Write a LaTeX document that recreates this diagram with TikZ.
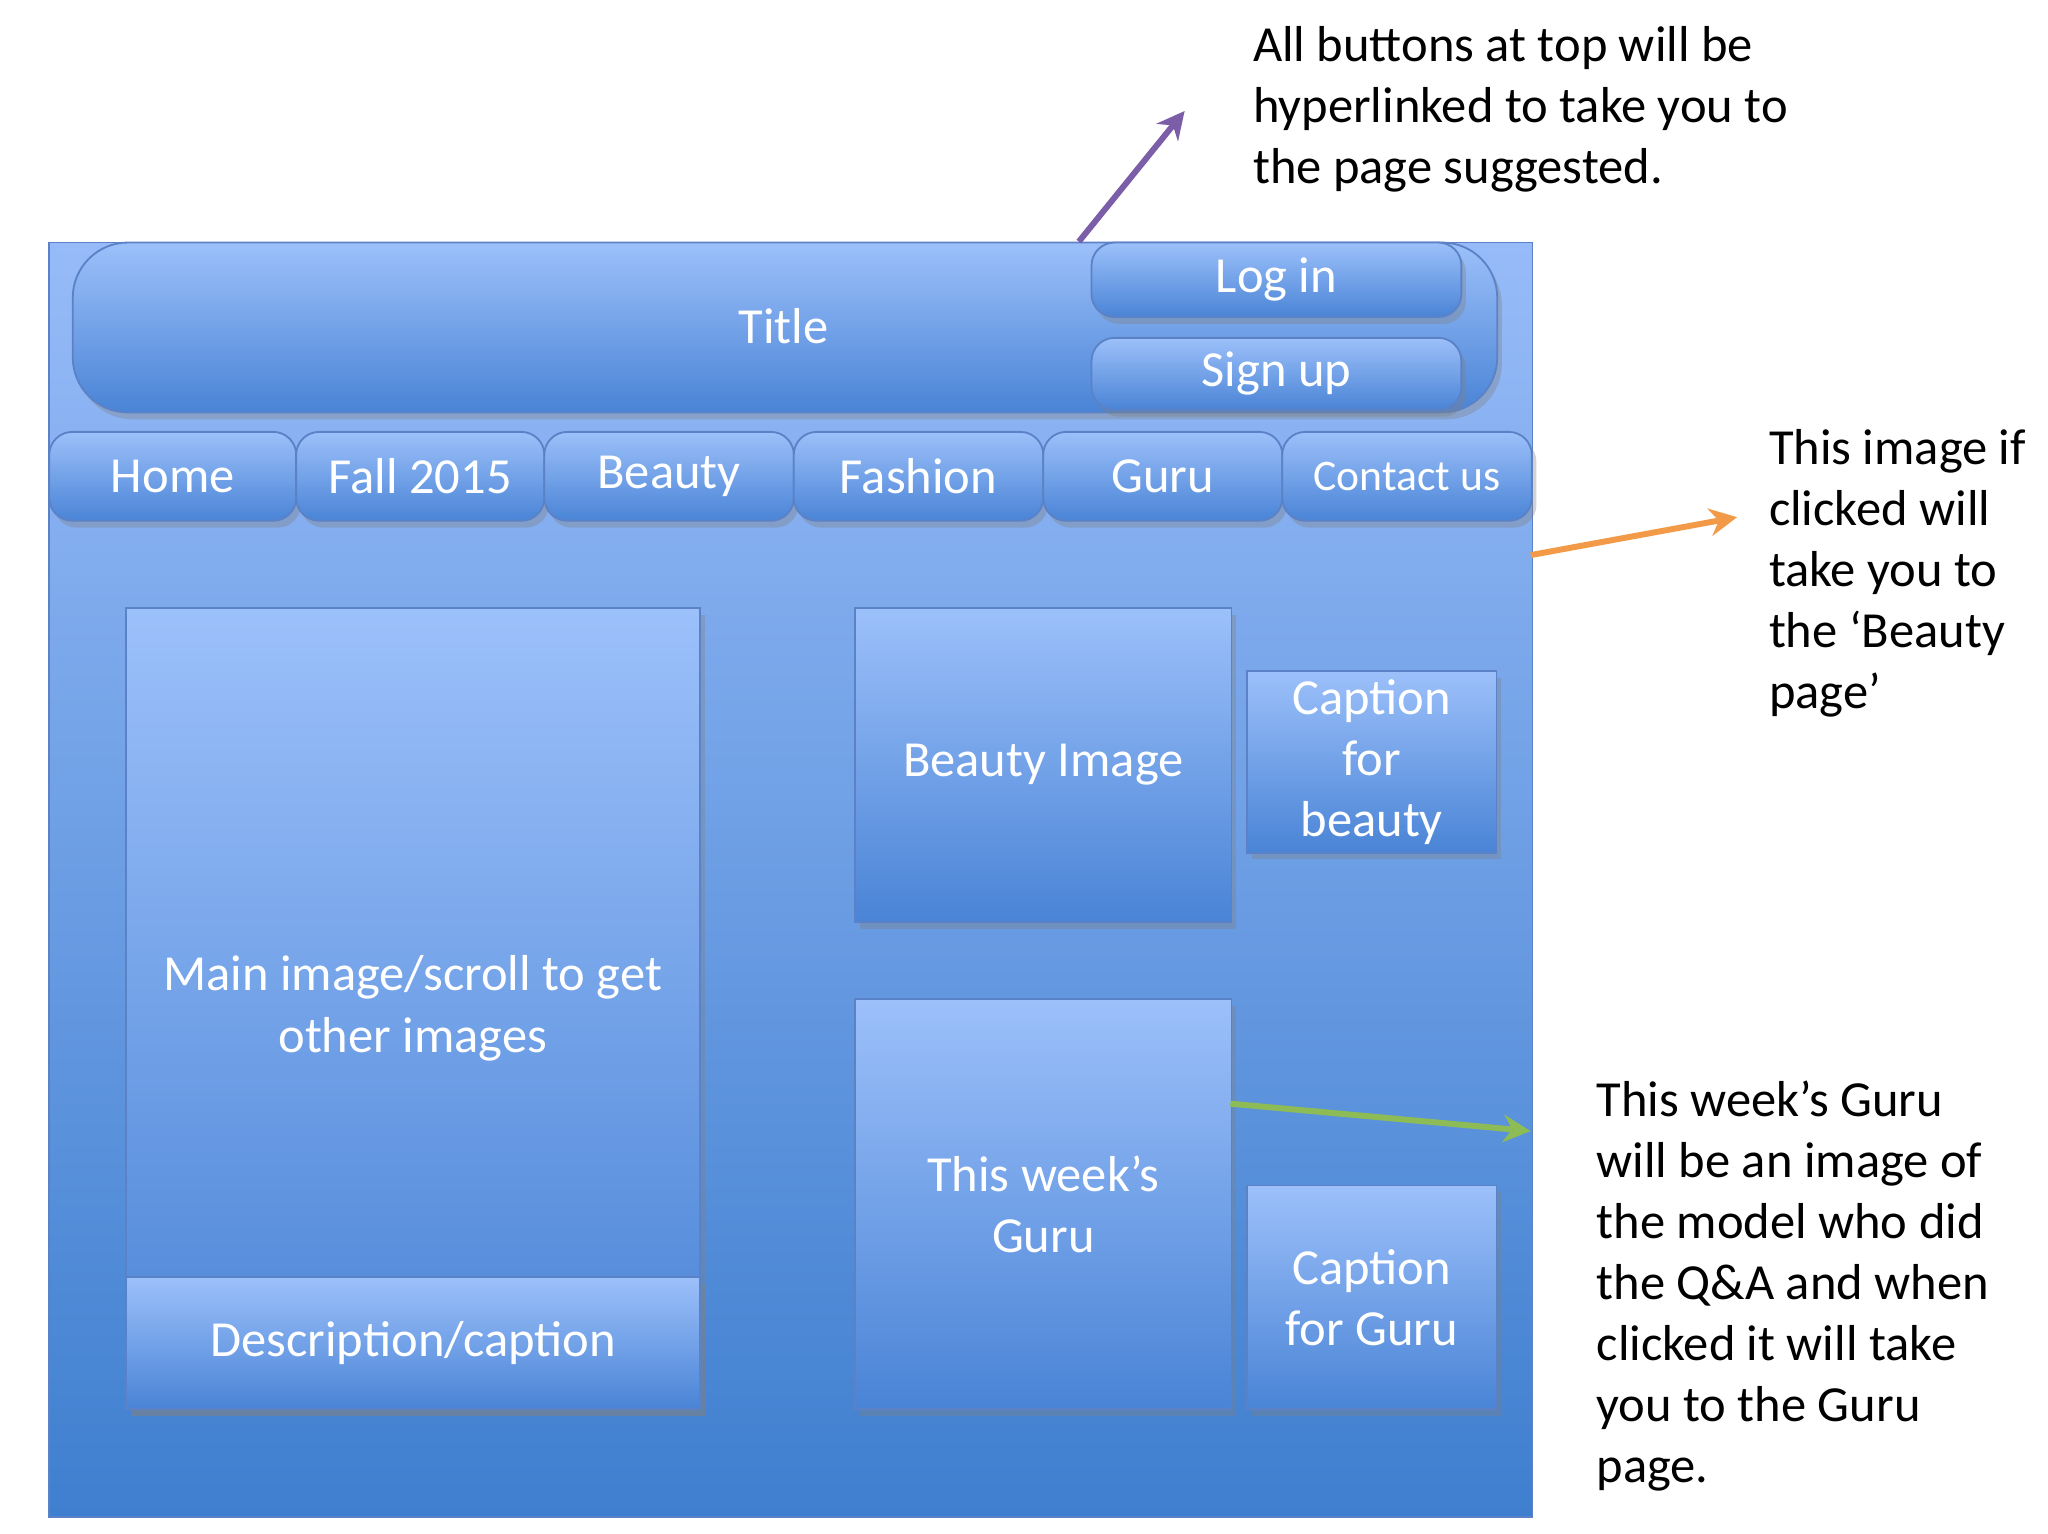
\documentclass[tikz,border=0pt]{standalone}
\usepackage{fontspec}
\setmainfont{Carlito}
\usetikzlibrary{arrows.meta, positioning, shadows}
\definecolor{paneltop}{HTML}{97BBF8}
\definecolor{panelbot}{HTML}{3F7FCF}
\definecolor{boxtop}{HTML}{9CC0FA}
\definecolor{boxbot}{HTML}{4A84D6}
\definecolor{boxline}{HTML}{5B82C6}
\definecolor{arrpurple}{HTML}{7B5EA7}
\definecolor{arrorange}{HTML}{F29A48}
\definecolor{arrgreen}{HTML}{8DBB55}
\begin{document}
\begin{tikzpicture}[x=0.01cm, y=-0.01cm,
    panel/.style={draw=boxline, top color=paneltop, bottom color=panelbot, anchor=north west, inner sep=0pt},
    box/.style={draw=boxline, top color=boxtop, bottom color=boxbot, anchor=north west,
                inner sep=0pt, align=center, text=white, drop shadow={opacity=0.35, shadow xshift=1pt, shadow yshift=-1.5pt},
                font=\fontsize{11}{13.3}\selectfont},
    note/.style={anchor=north west, align=left, font=\fontsize{11}{13.3}\selectfont},
    arrow/.style={-{Stealth[length=6pt, width=6pt]}, line width=1.3pt}
]
\useasboundingbox (0,0) rectangle (1568,1174);
\node[panel, minimum width=11.35cm, minimum height=9.75cm] (page) at (37,185) {};
\node[box, rounded corners=12pt, minimum width=10.9cm, minimum height=1.3cm] (title) at (55,185) {};
\node[text=white, font=\fontsize{11}{13.3}\selectfont] at (600,250) {Title};
\node[box, rounded corners=5pt, minimum width=2.83cm, minimum height=0.57cm] (login) at (835,185) {Log in};
\node[box, rounded corners=5pt, minimum width=2.83cm, minimum height=0.55cm] (signup) at (835,258) {Sign up};

% tabs
\node[box, rounded corners=5pt, minimum width=1.89cm, minimum height=0.68cm] (home) at (37,330) {Home};
\node[box, rounded corners=5pt, minimum width=1.90cm, minimum height=0.68cm] (fall) at (226,330) {Fall 2015};
\node[box, rounded corners=5pt, minimum width=1.91cm, minimum height=0.68cm] (beauty) at (416,330) {Beauty};
\node[box, rounded corners=5pt, minimum width=1.91cm, minimum height=0.68cm] (fashion) at (607,330) {Fashion};
\node[box, rounded corners=5pt, minimum width=1.83cm, minimum height=0.68cm] (guru) at (798,330) {Guru};
\node[box, rounded corners=5pt, minimum width=1.91cm, minimum height=0.68cm, font=\fontsize{9.5}{11}\selectfont] (contact) at (981,330) {Contact us};

% content boxes
\node[box, minimum width=4.39cm, minimum height=6.13cm] (mainimg) at (96,465) {};
\node[white, align=center, font=\fontsize{11}{13.3}\selectfont] at (316,772) {Main image/scroll to get\\other images};
\node[box, minimum width=4.39cm, minimum height=1.01cm] (desc) at (96,977) {Description/caption};
\node[box, minimum width=2.88cm, minimum height=2.40cm] (beautyimg) at (654,465) {Beauty Image};
\node[box, minimum width=1.91cm, minimum height=1.39cm] (capbeauty) at (954,513) {Caption\\for\\beauty};
\node[box, minimum width=2.88cm, minimum height=3.14cm] (weekguru) at (654,764) {This week’s\\Guru};
\node[box, minimum width=1.91cm, minimum height=1.71cm] (capguru) at (954,907) {Caption\\for Guru};

% notes
\node[note] (topnote) at (947,8) {All buttons at top will be\\hyperlinked to take you to\\the page suggested.};
\node[note] (beautynote) at (1342,316) {This image if\\clicked will\\take you to\\the ‘Beauty\\page’};
\node[note] (gurunote) at (1210,815) {This week’s Guru\\will be an image of\\the model who did\\the Q\&A and when\\clicked it will take\\you to the Guru\\page.};

\coordinate (ptop) at (907,85);
\coordinate (pbot) at (826,185);
\coordinate (obeg) at (1172,425);
\coordinate (oend) at (1330,396);
\coordinate (gbeg) at (942,845);
\coordinate (gend) at (1172,866);
\draw[arrow, arrpurple] (pbot) -- (ptop);
\draw[arrow, arrorange] (obeg) -- (oend);
\draw[arrow, arrgreen] (gbeg) -- (gend);
\end{tikzpicture}
\end{document}
